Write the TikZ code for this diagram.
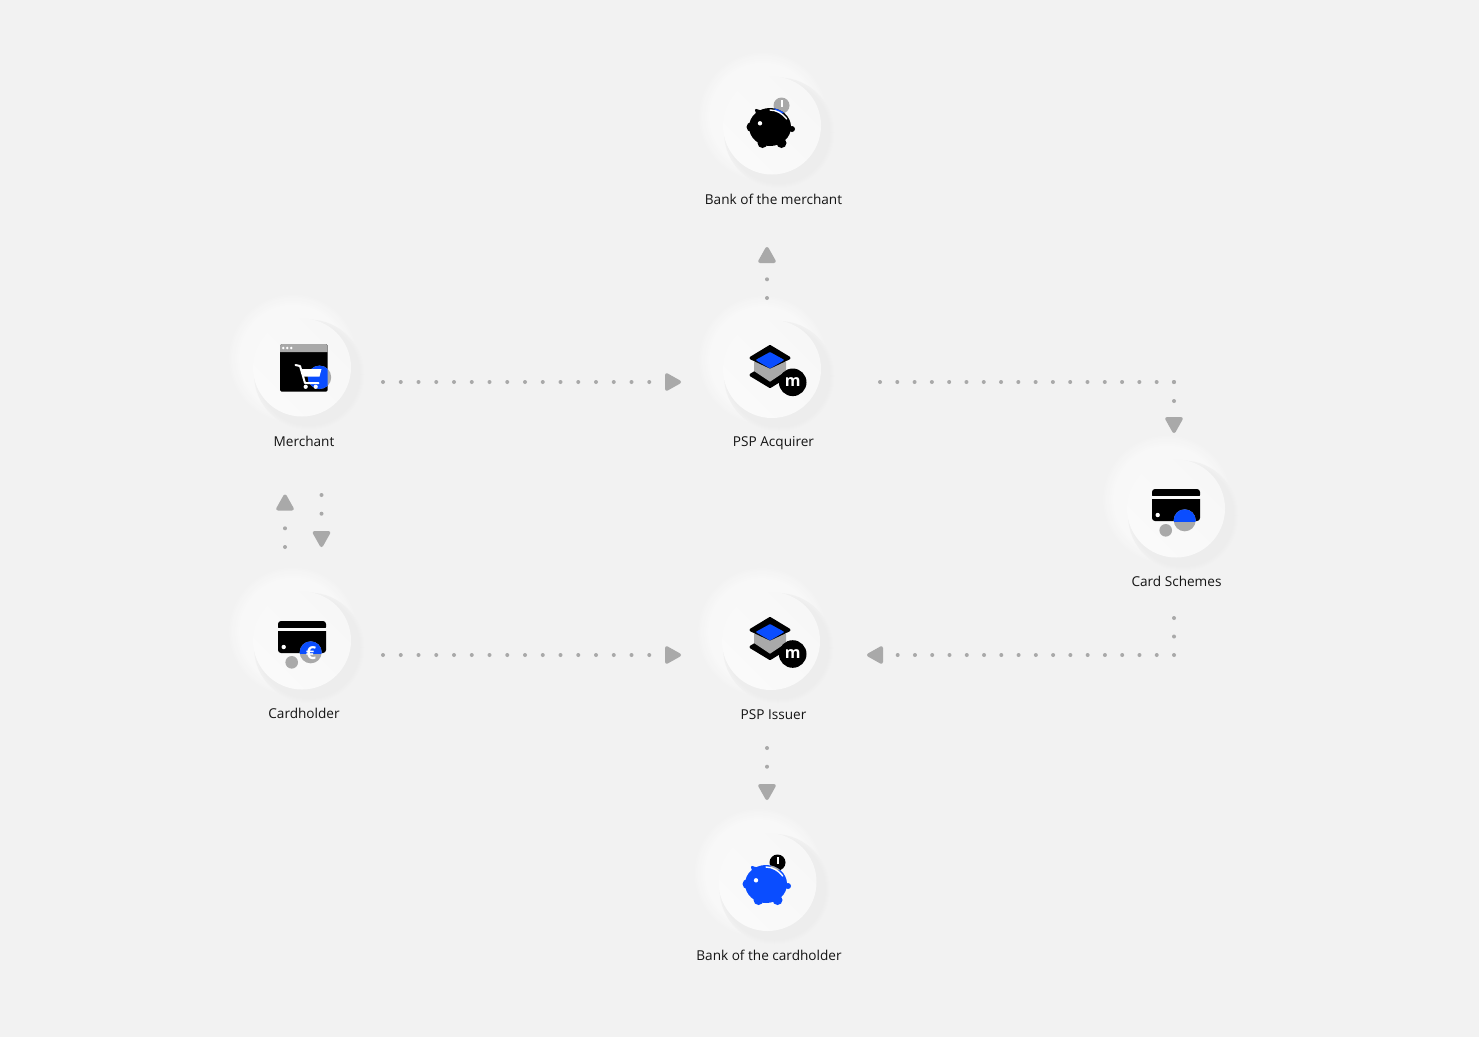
\documentclass[tikz,border=0pt]{standalone}
\usepackage{fontspec}
\setmainfont{Open Sans}
\usetikzlibrary{arrows.meta}

\definecolor{paper}{HTML}{F2F2F2}
\definecolor{dotgrey}{HTML}{A9A9A9}
\definecolor{mollieblue}{HTML}{0A4DFF}
\definecolor{discdark}{HTML}{F7F7F7}
\definecolor{disclight}{HTML}{FAFAFA}

\tikzset{
	disc/.style={circle,minimum size=98pt,inner sep=0pt,shading=axis,left color=discdark,right color=disclight,shading angle=-45},
	caption/.style={anchor=base,font=\fontsize{13.6}{16}\selectfont,text=black!92},
	badge/.style={circle,fill=black,minimum size=27.6pt,inner sep=0pt,text=white,font=\fontsize{16}{16}\selectfont\bfseries},
	trail/.style={line width=4pt,line cap=round,draw=dotgrey,dash pattern=on 0pt off #1},
	flow/.style={trail=#1,-{Triangle[length=18pt,width=19pt,line width=3.5pt,round]}},
	layer/.style={line width=3pt,line join=round}
}

% x, y, body, coin, overlap
\newcommand{\pigicon}[5]{
	\begin{scope}[shift={(#1,#2)}]
		\fill[#4] (10,-22.5) circle (8);
		\draw[white,line width=2pt] (10,-28) -- (10,-21);
		\fill[#3] (-1.5,-1) ellipse (21 and 19) (-20,-1) circle (5) (20.5,1) circle (3)
			(-9,15) circle (5) (10,15) circle (5)
			[rounded corners=1.5pt] (-17,-19.5) -- (-5,-16) -- (-13,-6) -- cycle;
		\begin{scope}
			\clip (-1.5,-1) ellipse (21 and 19);
			\fill[#5] (10,-22.5) circle (8);
		\end{scope}
		\draw[white,line width=1.4pt,line cap=round] (-1.5,-18) .. controls (5,-18) and (11,-14.5) .. (15.2,-9);
		\fill[white] (-11.5,-4.7) circle (2.2);
	\end{scope}
}
% x, y
\newcommand{\cardicon}[2]{
	\begin{scope}[shift={(#1,#2)}]
		\fill[black,rounded corners=3pt] (-24,-16) rectangle (24,-7);
		\fill[black,rounded corners=3pt] (-24,-9) -- (24,-9) -- (24,16) -- (-24,16) -- cycle;
		\fill[disclight] (-24,-9.5) rectangle (24,-6.5);
		\fill[white] (-18.3,10) circle (2.2);
		\fill[dotgrey] (-10.3,25.3) circle (6.3);
		\fill[dotgrey] (8.7,15.3) circle (11);
		\begin{scope}
			\clip (-24,-16) rectangle (24,16);
			\fill[mollieblue] (8.7,15.3) circle (11);
		\end{scope}
	\end{scope}
}
% x, y
\newcommand{\stackicon}[2]{
	\begin{scope}[shift={(#1,#2)}]
		\filldraw[layer,black] (-19,17) -- (0,5.5) -- (19,17) -- (0,28.5) -- cycle;
		\fill[dotgrey] (-16,4) -- (0,-6) -- (16,4) -- (16,13) -- (0,23.7) -- (-16,13) -- cycle;
		\filldraw[layer,black] (-19,0) -- (0,-11.5) -- (19,0) -- (0,9) -- cycle;
		\fill[mollieblue,rounded corners=1pt] (-14.5,2) -- (0,-6) -- (14.5,2) -- (0,10.5) -- cycle;
	\end{scope}
}

\begin{document}
\begin{tikzpicture}
	 [x=1pt,y=-1pt]
	\useasboundingbox (0,0) rectangle (1479,1037);
	\fill[paper] (0,0) rectangle (1479,1037);

	% glow and shadow behind the discs
	\foreach \x/\y in {772/125.5,302/367.5,772/369,1176/508.5,302/640.5,771/641,767.5/882}{
		\foreach \r/\p in {64/8,62.5/14,61/20,59.5/26,58/32,56/38,54/44}
			\fill[white!\p!paper] (\x-9,\y-9) circle (\r);
		\foreach \r/\p in {55/.4,54/.8,53/1.2,52/1.6,51/2}
			\fill[black!\p!paper] (\x+7,\y+7) circle (\r);
	}

	\node (bankm)[disc] at (772,125.5) {};
	\node (merchant)[disc] at (302,367.5) {};
	\node (acquirer)[disc] at (772,369) {};
	\node (schemes)[disc] at (1176,508.5) {};
	\node (holder)[disc] at (302,640.5) {};
	\node (issuer)[disc] at (771,641) {};
	\node (bankc)[disc] at (767.5,882) {};

	\node (bankmtxt)[caption] at (773.5,204) {Bank of the merchant};
	\node (merchanttxt)[caption] at (304,446) {Merchant};
	\node (acquirertxt)[caption] at (773.5,446) {PSP Acquirer};
	\node (schemestxt)[caption] at (1176.5,586) {Card Schemes};
	\node (holdertxt)[caption] at (304,718) {Cardholder};
	\node (issuertxt)[caption] at (773.5,719) {PSP Issuer};
	\node (bankctxt)[caption] at (769,960) {Bank of the cardholder};

	% icons
	\pigicon{771.5}{128}{black}{dotgrey}{mollieblue}
	\pigicon{767.5}{885}{mollieblue}{black}{dotgrey}

	\fill[black,rounded corners=1.5pt] (280,344) rectangle (327.7,391.7);
	\fill[dotgrey] (280,352) [rounded corners=1.5pt] -- (280,344) -- (327.7,344) [sharp corners] -- (327.7,352) -- cycle;
	\foreach \x in {283.3,287.3,291.3}
		\fill[white] (\x,348) circle (1.4);
	\fill[dotgrey] (319.5,377.3) circle (11.7);
	\begin{scope}
		\clip (280,344) rectangle (327.7,391.7);
		\fill[mollieblue] (319.5,377.3) circle (11.7);
	\end{scope}
	\draw[white,line width=2pt,line cap=round,line join=round] (295.5,365) -- (300,366) -- (305,383) -- (318.5,383);
	\fill[white] (301.5,369) -- (321.5,369) -- (319.5,376.5) -- (303.5,376.5) -- cycle;
	\fill[white] (305.7,386.8) circle (2.1) (315.7,386.8) circle (2.1);

	\stackicon{770}{358}
	\stackicon{770}{630}
	\node (acqbadge)[badge] at (792.7,382.3) {m};
	\node (issbadge)[badge] at (792.7,654) {m};

	\cardicon{1176}{505}
	\cardicon{302}{637}
	\node (euro)[text=white,inner sep=0pt,font=\fontsize{18}{18}\selectfont\bfseries] at (311,652.7) {€};

	% ends of the connectors
	\coordinate (m1) at (383,382);
	\coordinate (m2) at (681,382);
	\coordinate (h1) at (383,655);
	\coordinate (h2) at (681,655);
	\coordinate (a1) at (767,298);
	\coordinate (a2) at (767,247);
	\coordinate (i1) at (767,748);
	\coordinate (i2) at (767,800);
	\coordinate (u1) at (285,547);
	\coordinate (u2) at (285,494.5);
	\coordinate (d1) at (321.5,495);
	\coordinate (d2) at (321.5,547);
	\coordinate (c1) at (880,382);
	\coordinate (c2) at (1174,382);
	\coordinate (c3) at (1174,433);
	\coordinate (s1) at (1174,618);
	\coordinate (s2) at (1174,655);
	\coordinate (s3) at (867,655);

	\foreach \from/\to in {m1/m2,h1/h2}
	\draw[flow=17.75pt] (\from) -- (\to);
	\foreach \from/\to in {a1/a2,i1/i2,u1/u2,d1/d2}
	\draw[flow=18.7pt] (\from) -- (\to);

	\draw[trail=17.29pt] (c1) -- (c2);
	\draw[flow=19pt] (c2) -- (c3);
	\draw[trail=18.5pt] (s1) -- (s2);
	\draw[flow=17.27pt] (s2) -- (s3);

\end{tikzpicture}
\end{document}
